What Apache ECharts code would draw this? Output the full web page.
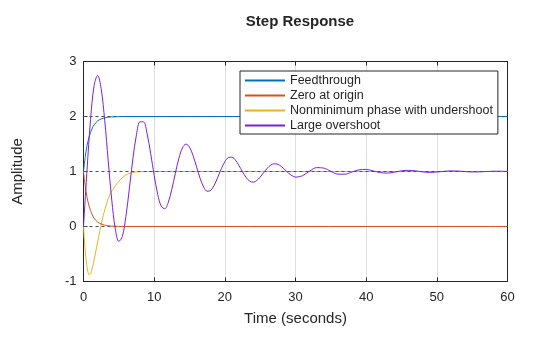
<!DOCTYPE html>
<html>
<head>
<meta charset="utf-8">
<script src="https://cdn.jsdelivr.net/npm/echarts@6/dist/echarts.min.js"></script>
<style>html,body{margin:0;padding:0;background:#fff;}#c{width:560px;height:337px;}</style>
</head>
<body>
<div id="c"></div>
<script>
var titleText = 'Step Response';
var xName = 'Time (seconds)';
var yName = 'Amplitude';
var seriesNames = ['Feedthrough', 'Zero at origin', 'Nonminimum phase with undershoot', 'Large overshoot'];
var xTicks = [0, 10, 20, 30, 40, 50, 60];
var yTicks = [-1, 0, 1, 2, 3];
var steadyLevels = [0, 1, 2];

var feedT = [0, 0.25, 0.5, 0.75, 1, 1.25, 1.5, 2, 2.5, 3, 3.5, 4, 5, 6, 60];
var feedY = [1, 1.27, 1.47, 1.61, 1.71, 1.79, 1.85, 1.92, 1.955, 1.975, 1.987, 1.993, 1.998, 2, 2];

var zeroT = [0, 0.25, 0.5, 0.75, 1, 1.25, 1.5, 2, 2.5, 3, 3.5, 4, 5, 6, 60];
var zeroY = [1, 0.73, 0.53, 0.39, 0.29, 0.21, 0.15, 0.08, 0.045, 0.025, 0.013, 0.007, 0.002, 0, 0];

var nonminT = [0, 0.1, 0.2, 0.3, 0.45, 0.6, 0.8, 1.0, 1.2, 1.4, 1.7, 2.0, 2.45, 2.8, 3.3, 3.8, 4.5, 5.2, 5.9, 6.6, 7.3, 8, 9, 60];
var nonminY = [0, -0.2, -0.37, -0.52, -0.69, -0.81, -0.88, -0.86, -0.78, -0.67, -0.48, -0.28, 0, 0.2, 0.43, 0.6, 0.74, 0.85, 0.93, 0.97, 0.99, 0.996, 1, 1];

var overT = [0, 0.5, 1, 1.5, 2, 2.5, 3, 3.5, 4, 4.5, 5, 5.5, 6, 6.5, 7, 7.5, 8, 8.5, 9, 9.5,
  10, 10.5, 11, 11.5, 12, 12.5, 13, 13.5, 14, 14.5, 15, 15.5, 16, 16.5, 17, 17.5, 18, 18.5, 19, 19.5,
  20, 20.5, 21, 21.5, 22, 22.5, 23, 23.5, 24, 24.5, 25, 25.5, 26, 26.5, 27, 27.5, 28, 28.5, 29, 29.5, 30,
  31, 32, 33, 34, 35, 36, 37, 38, 39, 40, 41, 42, 43, 44, 45, 46, 47, 48, 49, 50,
  51, 52, 53, 54, 55, 56, 57, 58, 59, 60];
var overY = [0, 1.027, 1.950, 2.561, 2.748, 2.505, 1.932, 1.193, 0.480, -0.043,
  -0.271, -0.178, 0.183, 0.702, 1.242, 1.675, 1.905, 1.902, 1.687, 1.331,
  0.931, 0.584, 0.370, 0.323, 0.440, 0.678, 0.969, 1.240, 1.429, 1.498,
  1.444, 1.290, 1.084, 0.877, 0.718, 0.641, 0.656, 0.751, 0.894, 1.050,
  1.178, 1.253, 1.261, 1.207, 1.109, 0.995, 0.893, 0.826, 0.806, 0.834,
  0.898, 0.980, 1.059, 1.116, 1.141, 1.130, 1.090, 1.032, 0.972, 0.925, 0.899,
  0.924, 1.008, 1.070, 1.062, 1.003, 0.952, 0.951, 0.991, 1.031, 1.038,
  1.011, 0.980, 0.971, 0.988, 1.012, 1.021, 1.011, 0.993, 0.984, 0.990,
  1.003, 1.011, 1.008, 0.999, 0.992, 0.993, 1.000, 1.005, 1.005, 1.001];

var colors = ['#0072BD', '#D95319', '#EDB120', '#7E1FE0'];

function pairs(t, y) { return t.map(function (v, i) { return [v, y[i]]; }); }

var font = 'Liberation Sans, Arial, Helvetica, sans-serif';
var axisColor = '#262626';
var chart = echarts.init(document.getElementById('c'), null, {renderer: 'canvas'});

function lineSeries(name, data, color, z, smooth) {
  return {
    name: name, type: 'line', data: data, showSymbol: false, symbol: 'none',
    smooth: smooth, z: z, silent: true, animation: false,
    lineStyle: {color: color, width: 1}, itemStyle: {color: color}
  };
}

chart.setOption({
  animation: false,
  title: {
    text: titleText, left: 295, top: 9, textAlign: 'center',
    textStyle: {fontFamily: font, fontSize: 15, fontWeight: 'bold', color: '#262626'}
  },
  grid: {left: 83.5, top: 61.5, width: 424, height: 220, show: false},
  legend: {
    data: seriesNames, orient: 'vertical', left: 240, top: 71,
    itemWidth: 40, itemHeight: 12, itemGap: 2, padding: [3, 5, 2, 4],
    backgroundColor: '#ffffff', borderColor: '#262626', borderWidth: 1,
    itemStyle: {opacity: 0},
    textStyle: {fontFamily: font, fontSize: 12.5, color: '#262626'},
    selectedMode: false
  },
  xAxis: [{
    type: 'value', min: xTicks[0], max: xTicks[xTicks.length - 1], interval: 10,
    name: xName, nameLocation: 'middle', nameGap: 30,
    nameTextStyle: {fontFamily: font, fontSize: 15, color: axisColor},
    axisLine: {show: true, onZero: false, lineStyle: {color: axisColor, width: 1}},
    axisTick: {show: true, inside: true, length: 4, lineStyle: {color: axisColor}},
    axisLabel: {fontFamily: font, fontSize: 13, color: axisColor, margin: 9},
    splitLine: {show: true, lineStyle: {color: '#dedede', width: 1}}
  }, {
    type: 'value', position: 'top', min: xTicks[0], max: xTicks[xTicks.length - 1], interval: 10,
    axisLine: {show: true, onZero: false, lineStyle: {color: axisColor, width: 1}},
    axisTick: {show: true, inside: true, length: 4, lineStyle: {color: axisColor}},
    axisLabel: {show: false}, splitLine: {show: false}
  }],
  yAxis: [{
    type: 'value', min: yTicks[0], max: yTicks[yTicks.length - 1], interval: 1,
    name: yName, nameLocation: 'middle', nameGap: 58, nameRotate: 90,
    nameTextStyle: {fontFamily: font, fontSize: 15, color: axisColor},
    axisLine: {show: true, onZero: false, lineStyle: {color: axisColor, width: 1}},
    axisTick: {show: true, inside: true, length: 4, lineStyle: {color: axisColor}},
    axisLabel: {fontFamily: font, fontSize: 13, color: axisColor, margin: 7},
    splitLine: {show: false}
  }, {
    type: 'value', position: 'right', min: yTicks[0], max: yTicks[yTicks.length - 1], interval: 1,
    axisLine: {show: true, onZero: false, lineStyle: {color: axisColor, width: 1}},
    axisTick: {show: true, inside: true, length: 4, lineStyle: {color: axisColor}},
    axisLabel: {show: false}, splitLine: {show: false}
  }],
  series: [
    {
      name: 'steady', type: 'line', data: [], z: 1, silent: true,
      markLine: {
        silent: true, symbol: 'none', label: {show: false}, animation: false, z: 2,
        lineStyle: {color: '#4d4d4d', type: [3, 3], width: 1},
        data: steadyLevels.map(function (v) { return {yAxis: v}; })
      }
    },
    lineSeries(seriesNames[0], pairs(feedT, feedY), colors[0], 3, 0.3),
    lineSeries(seriesNames[1], pairs(zeroT, zeroY), colors[1], 3, 0.3),
    lineSeries(seriesNames[2], pairs(nonminT, nonminY), colors[2], 1, 0.3),
    lineSeries(seriesNames[3], pairs(overT, overY), colors[3], 4, 0.35)
  ]
});
</script>
</body>
</html>
